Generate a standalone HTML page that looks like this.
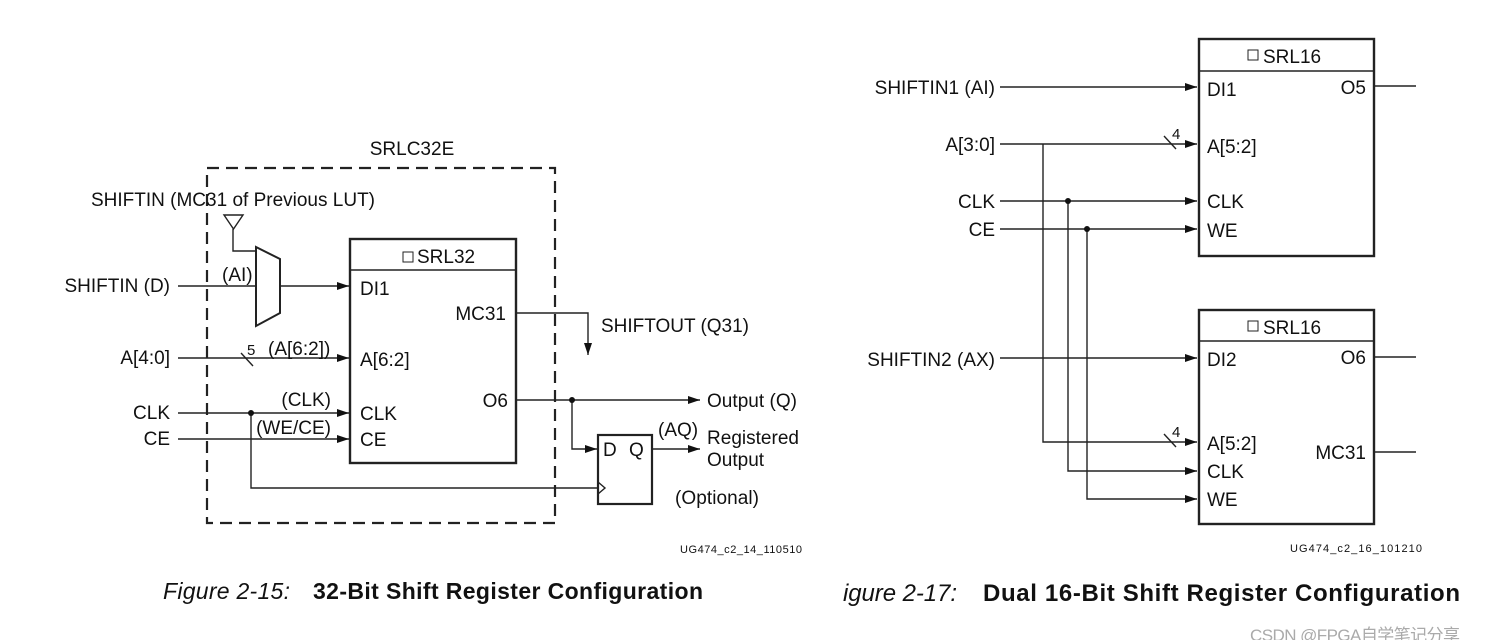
<!DOCTYPE html>
<html><head><meta charset="utf-8"><style>
html,body{margin:0;padding:0;background:#fff;}
svg{display:block;}
text{font-family:"Liberation Sans",Arial,sans-serif;fill:#111;}
</style></head><body>
<svg width="1500" height="640" viewBox="0 0 1500 640" xmlns="http://www.w3.org/2000/svg">
<defs>
<marker id="ar" markerWidth="12" markerHeight="8" refX="12" refY="4" orient="auto" markerUnits="userSpaceOnUse">
<path d="M0,0 L12,4 L0,8 z" fill="#111"/></marker>
</defs>
<g stroke="#222" stroke-width="1.4" fill="none">
<rect x="207" y="168" width="348" height="355" stroke-width="2.2" stroke-dasharray="12,7"/>
<rect x="350" y="239" width="166" height="224" stroke-width="2.4"/>
<line x1="350" y1="270" x2="516" y2="270"/>
<path d="M256,247 L280,259 L280,313 L256,326 z" stroke-width="2"/>
<path d="M224,215 L243,215 L233.5,229 z"/>
<path d="M233,229 L233,251 L256,251"/>
<line x1="178" y1="286" x2="256" y2="286"/>
<line x1="280" y1="286" x2="349" y2="286" marker-end="url(#ar)"/>
<line x1="178" y1="358" x2="349" y2="358" marker-end="url(#ar)"/>
<line x1="241" y1="353" x2="253" y2="366"/>
<line x1="178" y1="413" x2="349" y2="413" marker-end="url(#ar)"/>
<line x1="178" y1="439" x2="349" y2="439" marker-end="url(#ar)"/>
<path d="M251,413 L251,488 L597,488"/>
<path d="M598,482 L605,488 L598,494"/>
<path d="M516,313 L588,313 L588,355" marker-end="url(#ar)"/>
<line x1="516" y1="400" x2="700" y2="400" marker-end="url(#ar)"/>
<path d="M572,400 L572,449 L597,449" marker-end="url(#ar)"/>
<rect x="598" y="435" width="54" height="69" stroke-width="2.2"/>
<line x1="652" y1="449" x2="700" y2="449" marker-end="url(#ar)"/>
<rect x="1199" y="39" width="175" height="217" stroke-width="2.4"/>
<line x1="1199" y1="71" x2="1374" y2="71"/>
<rect x="1199" y="310" width="175" height="214" stroke-width="2.4"/>
<line x1="1199" y1="341" x2="1374" y2="341"/>
<line x1="1000" y1="87" x2="1197" y2="87" marker-end="url(#ar)"/>
<line x1="1000" y1="144" x2="1197" y2="144" marker-end="url(#ar)"/>
<line x1="1164" y1="136" x2="1176" y2="149"/>
<line x1="1000" y1="201" x2="1197" y2="201" marker-end="url(#ar)"/>
<line x1="1000" y1="229" x2="1197" y2="229" marker-end="url(#ar)"/>
<line x1="1000" y1="358" x2="1197" y2="358" marker-end="url(#ar)"/>
<path d="M1043,144 L1043,442 L1197,442" marker-end="url(#ar)"/>
<line x1="1164" y1="434" x2="1176" y2="447"/>
<path d="M1068,201 L1068,471 L1197,471" marker-end="url(#ar)"/>
<path d="M1087,229 L1087,499 L1197,499" marker-end="url(#ar)"/>
<line x1="1374" y1="86" x2="1416" y2="86"/>
<line x1="1374" y1="357" x2="1416" y2="357"/>
<line x1="1374" y1="452" x2="1416" y2="452"/>
<rect x="1248" y="50" width="10" height="10" stroke-width="1"/>
<rect x="1248" y="321" width="10" height="10" stroke-width="1"/>
<rect x="403" y="252" width="10" height="10" stroke-width="1"/>
</g>
<g fill="#111">
<circle cx="251" cy="413" r="3"/><circle cx="572" cy="400" r="3"/>
<circle cx="1068" cy="201" r="3"/><circle cx="1087" cy="229" r="3"/>
</g>
<g font-size="19">
<text x="412" y="155" text-anchor="middle">SRLC32E</text>
<text x="91" y="206" textLength="284">SHIFTIN (MC31 of Previous LUT)</text>
<text x="417" y="263">SRL32</text>
<text x="170" y="292" text-anchor="end">SHIFTIN (D)</text>
<text x="222" y="281">(AI)</text>
<text x="360" y="295">DI1</text>
<text x="506" y="320" text-anchor="end">MC31</text>
<text x="601" y="332" textLength="148">SHIFTOUT (Q31)</text>
<text x="170" y="364" text-anchor="end">A[4:0]</text>
<text x="247" y="355" font-size="15">5</text>
<text x="268" y="355">(A[6:2])</text>
<text x="360" y="366">A[6:2]</text>
<text x="508" y="407" text-anchor="end">O6</text>
<text x="707" y="407" textLength="90">Output (Q)</text>
<text x="170" y="419" text-anchor="end">CLK</text>
<text x="331" y="406" text-anchor="end">(CLK)</text>
<text x="360" y="420">CLK</text>
<text x="170" y="445" text-anchor="end">CE</text>
<text x="331" y="434" text-anchor="end">(WE/CE)</text>
<text x="360" y="446">CE</text>
<text x="603" y="456">D</text>
<text x="629" y="456">Q</text>
<text x="658" y="436">(AQ)</text>
<text x="707" y="444" textLength="92">Registered</text>
<text x="707" y="466">Output</text>
<text x="675" y="504" textLength="84">(Optional)</text>
<text x="680" y="553" font-size="11" textLength="122">UG474_c2_14_110510</text>
<text x="1263" y="63">SRL16</text>
<text x="1263" y="334">SRL16</text>
<text x="995" y="94" text-anchor="end">SHIFTIN1 (AI)</text>
<text x="995" y="151" text-anchor="end">A[3:0]</text>
<text x="995" y="208" text-anchor="end">CLK</text>
<text x="995" y="236" text-anchor="end">CE</text>
<text x="995" y="366" text-anchor="end">SHIFTIN2 (AX)</text>
<text x="1172" y="139" font-size="15">4</text>
<text x="1172" y="437" font-size="15">4</text>
<text x="1207" y="96">DI1</text>
<text x="1207" y="153">A[5:2]</text>
<text x="1207" y="208">CLK</text>
<text x="1207" y="237">WE</text>
<text x="1366" y="94" text-anchor="end">O5</text>
<text x="1207" y="366">DI2</text>
<text x="1366" y="364" text-anchor="end">O6</text>
<text x="1207" y="450">A[5:2]</text>
<text x="1207" y="478">CLK</text>
<text x="1207" y="506">WE</text>
<text x="1366" y="459" text-anchor="end">MC31</text>
<text x="1290" y="552" font-size="11" textLength="132">UG474_c2_16_101210</text>
</g>
<text x="163" y="599" font-size="23" font-style="italic" textLength="127">Figure 2-15:</text>
<text x="313" y="599" font-size="23" font-weight="bold" textLength="390">32-Bit Shift Register Configuration</text>
<text x="843" y="601" font-size="24" font-style="italic" textLength="114">igure 2-17:</text>
<text x="983" y="601" font-size="24" font-weight="bold" textLength="477">Dual 16-Bit Shift Register Configuration</text>
<text x="1250" y="641" font-size="17" style="fill:#aaa;font-family:'Liberation Sans','Noto Sans CJK SC',sans-serif" textLength="210">CSDN @FPGA自学笔记分享</text>
</svg>
</body></html>
